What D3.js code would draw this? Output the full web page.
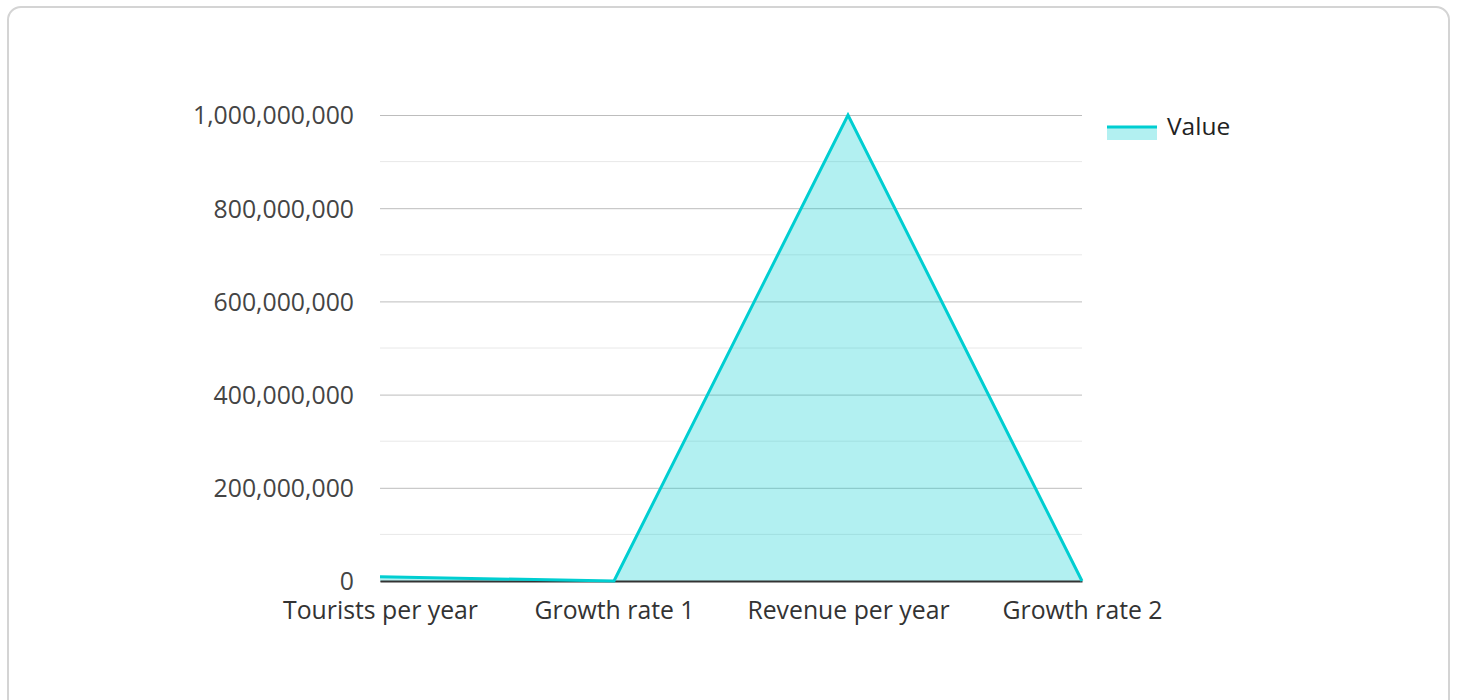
<!DOCTYPE html>
<html>
<head>
<meta charset="utf-8">
<script src="https://cdn.jsdelivr.net/npm/d3@7"></script>
<style>
  body { margin: 0; background: #fff; font-family: 'Open Sans', sans-serif; }
  .card { position: absolute; left: 7px; top: 6px; width: 1443px; height: 720px;
          border: 2px solid #d4d4d4; border-radius: 14px; box-sizing: border-box; }
</style>
</head>
<body>
<div class="card"></div>
<svg id="chart" width="1458" height="700" style="position:absolute;left:0;top:0"></svg>
<script>
const categories = ['Tourists per year', 'Growth rate 1', 'Revenue per year', 'Growth rate 2'];
const values = [9000000, 0, 1000000000, 0];
const yTicks = [0, 200000000, 400000000, 600000000, 800000000, 1000000000];
const seriesName = 'Value';

const color = '#00ced1';
const svg = d3.select('#chart');
const margin = { top: 115, left: 380, right: 376, bottom: 119 };
const width = 1458 - margin.left - margin.right;
const height = 700 - margin.top - margin.bottom;

const x = d3.scalePoint().domain(categories).range([0, width]);
const y = d3.scaleLinear().domain([0, 1000000000]).range([height, 0]);

const g = svg.append('g').attr('transform', 'translate(' + margin.left + ',' + margin.top + ')');

// minor grid
g.append('g')
  .selectAll('line')
  .data(d3.range(100000000, 1000000000, 200000000))
  .enter()
  .append('line')
  .attr('x1', 0).attr('x2', width)
  .attr('y1', d => y(d)).attr('y2', d => y(d))
  .attr('stroke', '#e8e8e8').attr('stroke-width', 1);

// major grid + labels
const yAxis = g.append('g')
  .call(d3.axisLeft(y).tickValues(yTicks).tickSize(-width).tickPadding(26).tickFormat(d3.format(',')));
yAxis.select('.domain').remove();
yAxis.selectAll('.tick line').attr('stroke', '#bdbdbd');
yAxis.selectAll('.tick text').attr('fill', '#444').attr('dy', '0.36em')
  .style('font-size', '24.8px').style('font-family', 'Open Sans');

const area = d3.area()
  .x((d, i) => x(categories[i]))
  .y0(y(0))
  .y1(d => y(d));
const line = d3.line()
  .x((d, i) => x(categories[i]))
  .y(d => y(d));

g.append('path').datum(values).attr('d', area).attr('fill', color).attr('fill-opacity', 0.3);

// x axis
const xAxis = g.append('g')
  .attr('transform', 'translate(0,' + height + ')')
  .call(d3.axisBottom(x).tickSize(0).tickPadding(20));
xAxis.select('.domain').attr('stroke', '#333').attr('stroke-width', 2);
xAxis.selectAll('.tick text').attr('fill', '#333').style('font-size', '24.8px').style('font-family', 'Open Sans');

g.append('path').datum(values).attr('d', line).attr('fill', 'none')
  .attr('stroke', color).attr('stroke-width', 3);

// legend
const lg = svg.append('g').attr('transform', 'translate(1107,126)');
lg.append('rect').attr('x', 0).attr('y', 0).attr('width', 50).attr('height', 14)
  .attr('fill', color).attr('fill-opacity', 0.3);
lg.append('line').attr('x1', 0).attr('x2', 50).attr('y1', 1).attr('y2', 1)
  .attr('stroke', color).attr('stroke-width', 3);
lg.append('text').attr('x', 60).attr('y', 2).attr('dominant-baseline', 'middle')
  .attr('fill', '#222').style('font-size', '24.5px').style('font-family', 'Open Sans')
  .text(seriesName);
</script>
</body>
</html>
